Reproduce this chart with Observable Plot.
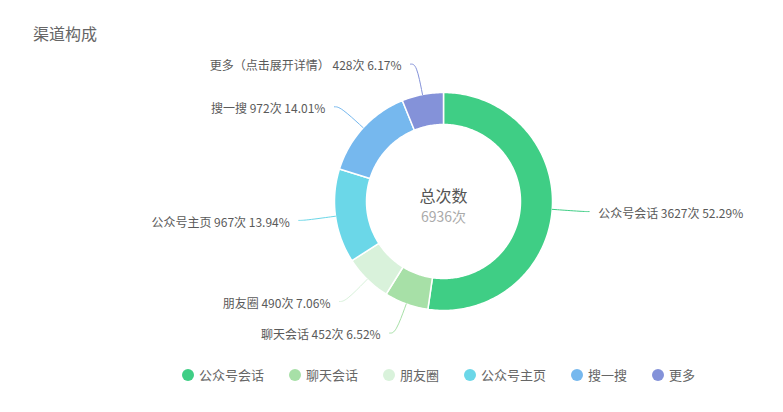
<!DOCTYPE html>
<html><head><meta charset="utf-8">
<script src="https://cdn.jsdelivr.net/npm/d3@7"></script>
<script src="https://cdn.jsdelivr.net/npm/@observablehq/plot@0.6"></script>
<style>
body{margin:0;background:#fff;font-family:"Noto Sans CJK SC","Noto Sans",sans-serif;}
#wrap{width:783px;height:412px;position:relative;overflow:hidden;background:#fff}
#title{height:52px;box-sizing:border-box;padding:23px 0 0 33px;font-size:16px;line-height:20px;color:#666}
#chart svg{display:block}
#legend{display:flex;align-items:center;box-sizing:border-box;padding:5px 0 0 182px;height:40px;font-size:13px;line-height:18px;color:#666}
#legend .item{display:flex;align-items:center;margin-right:25px}
#legend .dot{width:12px;height:12px;border-radius:50%;margin-right:5px}
</style></head><body>
<div id="wrap"><div id="title">渠道构成</div><div id="chart"></div><div id="legend"></div></div>
<script>
const categories = ["公众号会话","聊天会话","朋友圈","公众号主页","搜一搜","更多"];
const labelNames = ["公众号会话","聊天会话","朋友圈","公众号主页","搜一搜","更多（点击展开详情）"];
const counts = [3627,452,490,967,972,428];
const colors = ["#3fce85","#a7e0a7","#d9f2db","#6bd7e8","#76b8ee","#8492d9"];
const centerTitle = "总次数";
const unit = "次";

const total = d3.sum(counts);
const W = 783, H = 300, CX = 443, CY = 149, R = 109;
const INNER = 77 / R, ELBOW = 1 + 31 / R, HSEG = 6 / R;

const arcs = d3.pie().sort(null).value(d => d)(counts);
const slicePts = [];
const leaderPts = [];
const labels = [];
arcs.forEach((a, i) => {
  const name = categories[i];
  const n = Math.max(2, Math.ceil((a.endAngle - a.startAngle) / (Math.PI / 180)) + 1);
  for (let k = 0; k < n; k++) {
    const t = a.startAngle + (a.endAngle - a.startAngle) * k / (n - 1);
    slicePts.push({name, x: Math.sin(t), y: -Math.cos(t)});
  }
  for (let k = n - 1; k >= 0; k--) {
    const t = a.startAngle + (a.endAngle - a.startAngle) * k / (n - 1);
    slicePts.push({name, x: INNER * Math.sin(t), y: -INNER * Math.cos(t)});
  }
  const m = (a.startAngle + a.endAngle) / 2;
  const right = Math.sin(m) >= 0;
  const ex = ELBOW * Math.sin(m), ey = -ELBOW * Math.cos(m);
  const endX = ex + (right ? HSEG : -HSEG);
  leaderPts.push({name, x: Math.sin(m), y: -Math.cos(m)});
  leaderPts.push({name, x: ex, y: ey});
  leaderPts.push({name, x: endX, y: ey});
  const pct = (counts[i] / total * 100).toFixed(2) + "%";
  labels.push({name, right, x: endX, y: ey, text: `${labelNames[i]} ${counts[i]}${unit} ${pct}`});
});

const chart = Plot.plot({
  width: W, height: H, margin: 0,
  style: {fontFamily: '"Noto Sans CJK SC","Noto Sans",sans-serif', background: "#fff"},
  x: {domain: [-CX / R, (W - CX) / R], range: [0, W], axis: null},
  y: {domain: [-CY / R, (H - CY) / R], range: [0, H], axis: null},
  color: {domain: categories, range: colors},
  marks: [
    Plot.line(slicePts, {x: "x", y: "y", z: "name", fill: "name", stroke: "white", strokeWidth: 1.5, curve: "linear-closed"}),
    Plot.line(leaderPts, {x: "x", y: "y", z: "name", stroke: "name", strokeWidth: 1, curve: "basis"}),
    Plot.text(labels.filter(d => d.right), {x: "x", y: "y", text: "text", textAnchor: "start", dx: 9, dy: 2.5, fontSize: 12, fill: "#5a5a5a"}),
    Plot.text(labels.filter(d => !d.right), {x: "x", y: "y", text: "text", textAnchor: "end", dx: -9, dy: 2.5, fontSize: 12, fill: "#5a5a5a"}),
    Plot.text([{x: 0, y: 0, t: centerTitle}], {x: "x", y: "y", text: "t", dy: -5, fontSize: 16, fill: "#555"}),
    Plot.text([{x: 0, y: 0, t: total + unit}], {x: "x", y: "y", text: "t", dy: 16, fontSize: 14, fill: "#aaa"})
  ]
});
document.getElementById("chart").appendChild(chart);

const color = chart.scale("color");
const legend = document.getElementById("legend");
categories.forEach((c, i) => {
  const item = document.createElement("div");
  item.className = "item";
  const dot = document.createElement("span");
  dot.className = "dot";
  dot.style.background = colors[color.domain.indexOf(c)] || colors[i];
  const label = document.createElement("span");
  label.textContent = c;
  item.appendChild(dot); item.appendChild(label);
  legend.appendChild(item);
});
</script>
</body></html>
